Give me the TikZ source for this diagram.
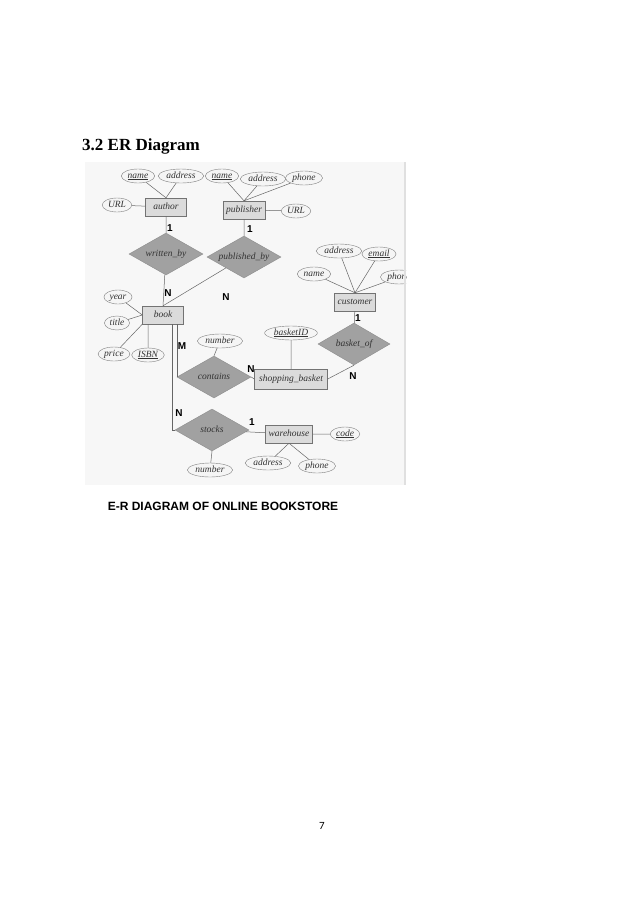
\documentclass[tikz,border=0pt]{standalone}
\usepackage{fontspec}
\newfontfamily\headfont{Liberation Serif}
\newfontfamily\erfont{Liberation Serif}
\newfontfamily\cardfont{Liberation Sans}
\newfontfamily\pagefont{Carlito}
\usetikzlibrary{shapes.geometric}

\tikzset{
  erlabel/.style={text=black!80,text height=6pt,text depth=1.8pt,
    font={\erfont\itshape\fontsize{9.5}{10}\selectfont}},
  entity/.style={erlabel,draw=black!55,fill=black!14,minimum width=41pt,minimum height=18pt,
    inner xsep=3pt,inner ysep=1pt},
  relation/.style={erlabel,diamond,draw=black!45,fill=black!37,minimum width=74pt,
    minimum height=42pt,inner sep=0pt,aspect=1.76},
  attr/.style={erlabel,ellipse,draw=black!50,fill=black!4,inner xsep=1.5pt,inner ysep=0pt,
    minimum height=14pt},
  card/.style={inner sep=0pt,font={\cardfont\bfseries\fontsize{10}{10}\selectfont}},
  link/.style={draw=black!60,line width=0.5pt}}

\begin{document}
\begin{tikzpicture}[x=1pt,y=-1pt]
  \useasboundingbox (0,0) rectangle (638,903);
  \node[anchor=west,inner sep=0pt,font={\headfont\bfseries\fontsize{17}{17}\selectfont}]
    (title) at (82,146) {3.2 ER Diagram};

  \begin{scope}
  \clip (85,162) rectangle (406,485);
  \fill[black!3] (85,162) rectangle (406,485);
  % entities
  \node[entity] (author) at (166,207) {author};
  \node[entity] (publisher) at (244,210) {publisher};
  \node[entity] (book) at (163,315) {book};
  \node[entity] (customer) at (355,302) {customer};
  \node[entity,minimum width=73pt,minimum height=20pt] (basket) at (291,379) {shopping\_basket};
  \node[entity,minimum width=47pt] (warehouse) at (289,434) {warehouse};

  % relationships
  \node[relation] (writtenby) at (166,254) {written\_by};
  \node[relation] (publishedby) at (244,257) {published\_by};
  \node[relation] (contains) at (214,377) {contains};
  \node[relation,minimum width=72pt] (basketof) at (354,344) {basket\_of};
  \node[relation] (stocks) at (212,430) {stocks};

  % attributes
  \node[attr] (aname) at (138,176) {\underline{name}};
  \node[attr] (aaddress) at (181,176) {address};
  \node[attr,minimum width=28pt] (aurl) at (117,205) {URL};
  \node[attr] (pname) at (222,176) {\underline{name}};
  \node[attr] (paddress) at (263,179) {address};
  \node[attr] (pphone) at (304,178) {phone};
  \node[attr,minimum width=28pt] (purl) at (296,211) {URL};
  \node[attr] (byear) at (118,297) {year};
  \node[attr] (btitle) at (117,323) {title};
  \node[attr] (bprice) at (114,354) {price};
  \node[attr] (bisbn) at (148,355) {\underline{ISBN}};
  \node[attr] (cnumber) at (220,341) {number};
  \node[attr] (bid) at (291,333) {\underline{basketID}};
  \node[attr] (caddress) at (339,251) {address};
  \node[attr] (cemail) at (379,254) {\underline{email}};
  \node[attr] (cname) at (314,274) {name};
  \node[attr] (cphone) at (399,277) {phone};
  \node[attr] (snumber) at (210,470) {number};
  \node[attr] (wcode) at (345,434) {\underline{code}};
  \node[attr] (waddress) at (268,463) {address};
  \node[attr] (wphone) at (317,466) {phone};

  % attribute links
  \draw[link] (aname) -- (author.north) (aaddress) -- (author.north) (aurl) -- (author);
  \draw[link] (pname) -- (publisher.north) (paddress) -- (publisher.north)
    (pphone) -- (publisher.north) (purl) -- (publisher);
  \draw[link] (byear) -- (book.west) (btitle) -- (book.west)
    (bprice) -- (book.south west) (bisbn) -- (bisbn |- book.south);
  \draw[link] (cnumber) -- (contains.north) (bid) -- (bid |- basket.north);
  \draw[link] (caddress) -- (customer.north) (cemail) -- (customer.north)
    (cname) -- (customer.north) (cphone) -- (customer.north);
  \draw[link] (snumber) -- (stocks.south) (wcode) -- (warehouse)
    (waddress) -- (warehouse.south) (wphone) -- (warehouse.south);

  % relationship links
  \draw[link] (author) -- (writtenby) (writtenby) -- (book.north);
  \draw[link] (publisher) -- (publishedby) (publishedby) -- (book.north);
  \draw[link] (book.south -| contains.west) -- (contains.west);
  \draw[link] ([xshift=9pt]book.south) |- (stocks.west);
  \draw[link] (contains.east) -- (basket.west) (basket.east) -- (basketof.south);
  \draw[link] (basketof) -- (customer) (stocks) -- (warehouse);

  % cardinalities
  \node[card] (c1) at (170,228) {1};
  \node[card] (c2) at (250,229) {1};
  \node[card] (c3) at (168,293) {N};
  \node[card] (c4) at (226,297) {N};
  \node[card] (c5) at (182,346) {M};
  \node[card] (c6) at (251,369) {N};
  \node[card] (c7) at (358,318) {1};
  \node[card] (c8) at (353,376) {N};
  \node[card] (c9) at (179,413) {N};
  \node[card] (c10) at (252,422) {1};
  \end{scope}
  \draw[black!12,line width=1.5pt] (405,162) -- (405,485);

  \node[inner sep=0pt,font={\cardfont\bfseries\fontsize{12}{12}\selectfont}]
    (caption) at (223,506) {E-R DIAGRAM OF ONLINE BOOKSTORE};
  \node[inner sep=0pt,font={\pagefont\fontsize{11}{11}\selectfont}] (page) at (322,826) {7};
\end{tikzpicture}
\end{document}
